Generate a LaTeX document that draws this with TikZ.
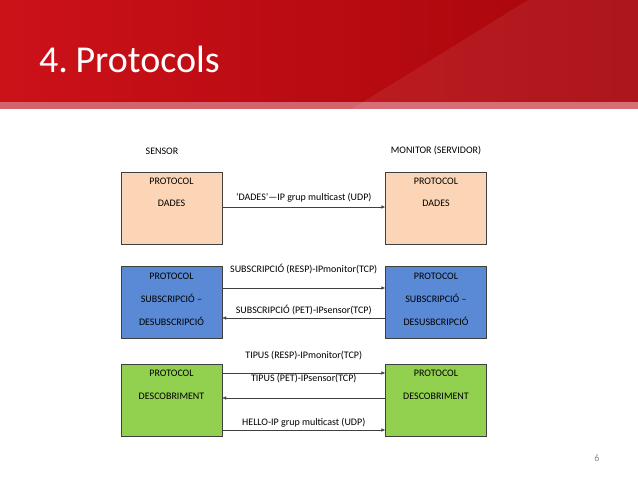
\documentclass[tikz,border=0pt]{standalone}
\usepackage{fontspec}
\setmainfont{Carlito}
\usetikzlibrary{positioning,arrows.meta}
\definecolor{headred}{HTML}{CC1119}
\definecolor{headdark}{HTML}{A6050B}
\definecolor{stripred}{HTML}{D4646B}
\definecolor{peach}{HTML}{FBD5B5}
\definecolor{boxblue}{HTML}{5A8AD5}
\definecolor{boxgreen}{HTML}{92D050}
\definecolor{edgegray}{HTML}{3F3F3F}
\definecolor{pagegray}{HTML}{8C8C8C}
\begin{document}
\begin{tikzpicture}
         [x=1pt, y=-1pt,
          proto/.style={draw=edgegray, minimum width=101pt, minimum height=72pt, inner sep=0pt},
          inbox/.style={align=center, inner sep=0pt, font=\fontsize{10}{22}\selectfont},
          side/.style={font=\fontsize{10}{12}\selectfont, inner sep=0pt},
          msg/.style={font=\fontsize{10}{12}\selectfont, inner sep=2pt},
          flow/.style={draw=edgegray, -{Latex[length=4pt,width=3.5pt]}}]
         \useasboundingbox (0,0) rectangle (638,478);

         % header band
         \shade[left color=headred, right color=headdark] (0,0) rectangle (638,102);
         \fill[white, opacity=0.07] (528,0) -- (638,0) -- (638,102) -- (363,102) -- cycle;
         \fill[stripred] (0,102) rectangle (638,109);
         \fill[white, opacity=0.07] (363,102) -- (638,102) -- (638,109) -- (352,109) -- cycle;
         \node[anchor=base west, inner sep=0pt, text=white, font=\fontsize{38}{42}\selectfont] (title) at (39,73) {4.\kern0.2em Protocols};

         % the two sides
         \node[side] (sensor) at (162,151) {SENSOR};
         \node[side] (monitor) at (436,151) {MONITOR (SERVIDOR)};

         \node[proto, fill=peach] (s1) at (171.5,208) {};
         \node[proto, fill=peach] (m1) at (436,208) {};
         \node[proto, fill=boxblue] (s2) at (171.5,302.5) {};
         \node[proto, fill=boxblue] (m2) at (436,302.5) {};
         \node[proto, fill=boxgreen] (s3) at (171.5,400.5) {};
         \node[proto, fill=boxgreen] (m3) at (436,400.5) {};

         \node[inbox, below=6pt of s1.north] (s1t) {PROTOCOL\\DADES};
         \node[inbox, below=6pt of m1.north] (m1t) {PROTOCOL\\DADES};
         \node[inbox, below=7pt of s2.north, font=\fontsize{10}{23}\selectfont] (s2t) {PROTOCOL\\SUBSCRIPCIÓ –\\DESUBSCRIPCIÓ};
         \node[inbox, below=7pt of m2.north, font=\fontsize{10}{23}\selectfont] (m2t) {PROTOCOL\\SUBSCRIPCIÓ –\\DESUSBCRIPCIÓ};
         \node[inbox, below=6pt of s3.north, font=\fontsize{10}{23}\selectfont] (s3t) {PROTOCOL\\DESCOBRIMENT};
         \node[inbox, below=6pt of m3.north, font=\fontsize{10}{23}\selectfont] (m3t) {PROTOCOL\\DESCOBRIMENT};

         % messages
         \draw[flow] ([yshift=1pt]s1.east) -- node[msg, above=3pt] {‘DADES’—IP grup multicast (UDP)} ([yshift=1pt]m1.west);

         \draw[flow] ([yshift=14.5pt]s2.east) -- node[msg, above=12pt] {SUBSCRIPCIÓ (RESP)-IPmonitor(TCP)} ([yshift=14.5pt]m2.west);
         \draw[flow] ([yshift=-15.5pt]m2.west) -- node[msg, above=1pt] {SUBSCRIPCIÓ (PET)-IPsensor(TCP)} ([yshift=-15.5pt]s2.east);

         \draw[flow] ([yshift=27.5pt]s3.east) -- node[msg, above=11pt] {TIPUS (RESP)-IPmonitor(TCP)} ([yshift=27.5pt]m3.west);
         \draw[flow] ([yshift=2.5pt]m3.west) -- node[msg, above=13pt] {TIPUS (PET)-IPsensor(TCP)} ([yshift=2.5pt]s3.east);
         \draw[flow] ([yshift=-29.5pt]s3.east) -- node[msg, above=1pt] {HELLO-IP grup multicast (UDP)} ([yshift=-29.5pt]m3.west);

         \node[text=pagegray, font=\fontsize{10}{12}\selectfont] (page) at (597,458) {6};
      \end{tikzpicture}
\end{document}
